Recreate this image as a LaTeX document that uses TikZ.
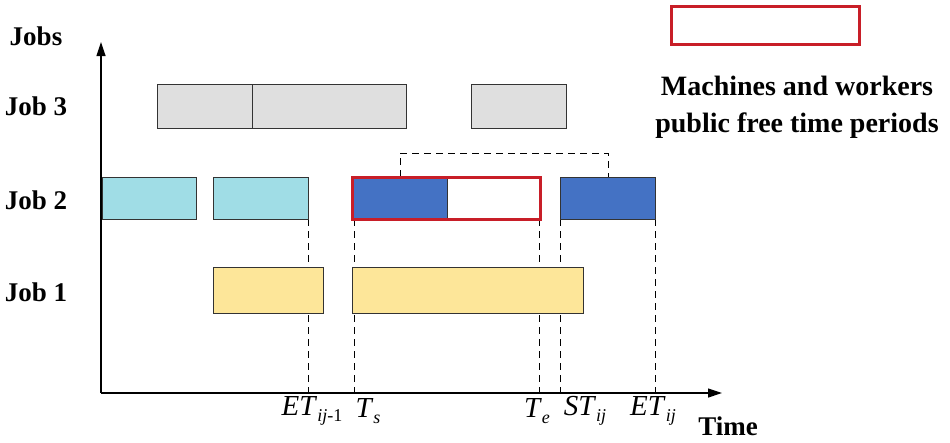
\documentclass[tikz,border=0pt]{standalone}
\usepackage{fontspec}
\setmainfont{Liberation Serif}
\usetikzlibrary{arrows.meta}
\newcommand{\mylbl}[2]{\textit{#1}\raisebox{-6pt}{\fontsize{18}{18}\selectfont\textit{#2}}}
\begin{document}
\begin{tikzpicture}[x=1pt,y=-1pt,
 bx/.style={draw=black!80,line width=1pt},
 dl/.style={dashed,dash pattern=on 7pt off 5pt,line width=0.8pt},
 lab/.style={font=\bfseries\fontsize{27}{33}\selectfont},
 ax/.style={line width=1.2pt,-{Triangle[length=14pt,width=9pt]}}]
\useasboundingbox (0,0) rectangle (950,442);
\coordinate (o) at (101,393);
\coordinate (yt) at (101,42);
\coordinate (xt) at (722,393);
% dashed lines
\draw[dl] (308,219) -- (308,393);
\draw[dl] (354,219) -- (354,393);
\draw[dl] (539,219) -- (539,393);
\draw[dl] (560,219) -- (560,393);
\draw[dl] (655,219) -- (655,393);
\draw[dl] (400,177) -- (400,153) -- (608,153) -- (608,177);
% job 3
\draw[bx,fill=gray!25] (157,84) rectangle (252,128);
\draw[bx,fill=gray!25] (252,84) rectangle (406,128);
\draw[bx,fill=gray!25] (471,84) rectangle (566,128);
% job 2
\draw[bx,fill={rgb,255:red,160;green,221;blue,230}] (102,177) rectangle (196,219);
\draw[bx,fill={rgb,255:red,160;green,221;blue,230}] (213,177) rectangle (308,219);
\draw[bx,fill={rgb,255:red,68;green,114;blue,196}] (352,177) rectangle (447,219);
\draw[bx,fill={rgb,255:red,68;green,114;blue,196}] (560,177) rectangle (655,219);
\draw[line width=3pt,draw={rgb,255:red,200;green,30;blue,40}] (352,177) rectangle (540,219);
% job 1
\draw[bx,fill={rgb,255:red,253;green,230;blue,153}] (213,267) rectangle (323,313);
\draw[bx,fill={rgb,255:red,253;green,230;blue,153}] (352,267) rectangle (583,313);
% axes
\draw[ax] (o) -- (yt);
\draw[ax] (o) -- (xt);
% legend
\draw[line width=3pt,draw={rgb,255:red,200;green,30;blue,40}] (671,6) rectangle (859,44);
\node[font=\bfseries\fontsize{28}{37}\selectfont,align=center] (leg) at (797,107) {Machines and workers\\public free time periods};
% labels
\node[lab] (jobs) at (36,36) {Jobs};
\node[lab] (j3) at (36,106) {Job 3};
\node[lab] (j2) at (36,200) {Job 2};
\node[lab] (j1) at (36,292) {Job 1};
\node[lab] (time) at (728,426) {Time};
\begin{scope}[font=\fontsize{29}{30}\selectfont]
\node (l1) at (312,411) {\mylbl{ET}{ij-}\raisebox{-6pt}{\fontsize{18}{18}\selectfont 1}};
\node (l2) at (368,411) {\mylbl{T}{s}};
\node (l3) at (537,411) {\mylbl{T}{e}};
\node (l4) at (585,411) {\mylbl{ST}{ij}};
\node (l5) at (653,411) {\mylbl{ET}{ij}};
\end{scope}
\end{tikzpicture}
\end{document}
